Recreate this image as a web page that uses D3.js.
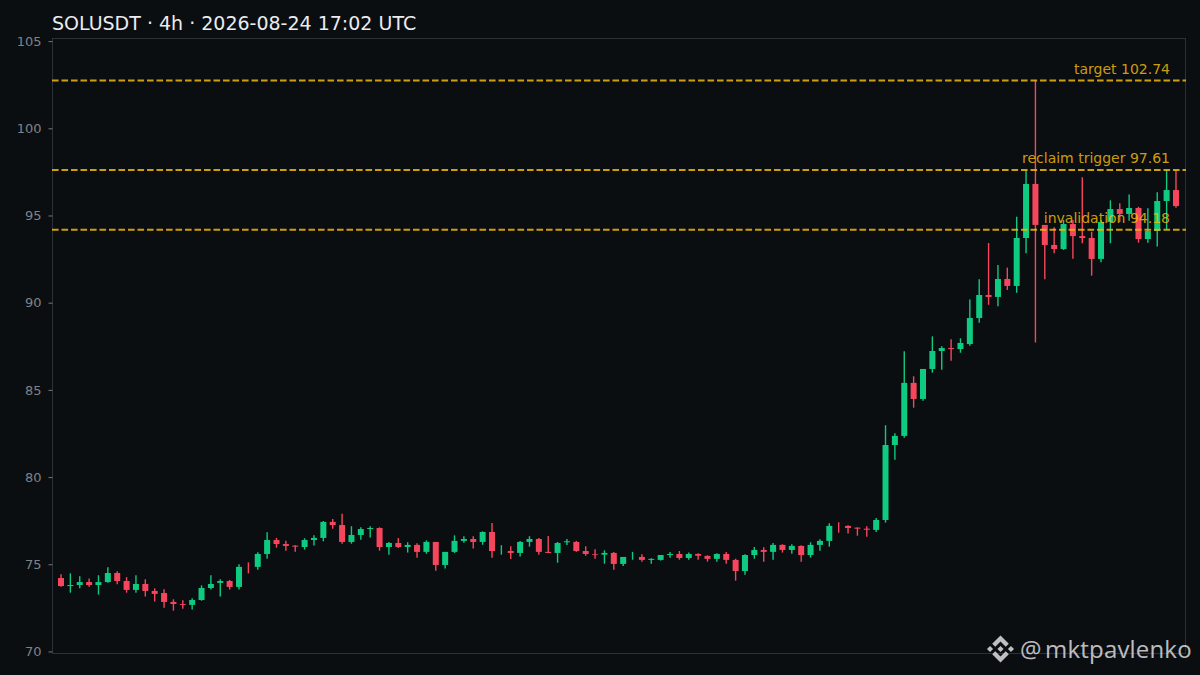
<!DOCTYPE html>
<html><head><meta charset="utf-8">
<script src="https://cdn.jsdelivr.net/npm/d3@7/dist/d3.min.js"></script>
<style>html,body{margin:0;padding:0;background:#0b0e11;overflow:hidden}svg{display:block}text{opacity:.999}</style>
</head><body><svg id="c" width="1200" height="675"></svg>
<script>
const titleText = "SOLUSDT · 4h · 2026-08-24 17:02 UTC";
const handle = "@ mktpavlenko";
const yTicks = [70,75,80,85,90,95,100,105];
const levelNames = ["target 102.74","reclaim trigger 97.61","invalidation 94.18"];
const levelValues = [102.74,97.61,94.18];
const opens = [74.21,73.75,73.81,73.98,73.81,73.98,74.50,74.04,73.53,73.87,73.47,73.35,72.84,72.72,72.67,72.95,73.64,73.93,74.04,73.70,
74.85,74.85,75.59,76.39,76.16,76.07,75.99,76.39,76.51,77.43,77.25,76.28,76.68,77.02,77.08,75.99,76.22,75.99,76.11,75.71,
76.28,74.96,75.71,76.34,76.45,76.28,76.85,75.79,75.76,75.65,76.28,76.45,75.71,75.65,76.26,76.28,75.76,75.59,75.55,75.65,
75.02,75.48,75.42,75.25,75.25,75.53,75.59,75.36,75.59,75.48,75.31,75.59,75.25,74.61,75.53,75.82,75.71,76.11,75.82,76.05,
75.53,76.11,76.34,77.14,77.20,77.10,77.04,76.97,77.54,81.84,82.36,85.40,84.48,86.20,87.23,87.40,87.34,87.63,89.12,90.44,
90.33,91.36,90.96,93.71,96.81,94.46,93.31,93.08,94.51,93.82,93.71,92.51,94.63,95.37,95.09,95.43,93.65,94.11,95.83,96.46];
const highs = [74.43,74.48,74.31,74.19,74.37,74.83,74.60,74.26,74.37,74.14,73.62,73.57,72.99,72.93,73.05,73.79,74.37,74.14,74.10,75.00,
75.11,75.69,76.84,76.51,76.35,76.09,76.49,76.66,77.48,77.60,77.89,77.18,77.12,77.18,77.12,76.28,76.51,76.26,76.20,76.37,
76.28,75.71,76.66,76.61,76.61,76.89,77.37,76.09,76.03,76.34,76.61,76.51,76.62,76.28,76.45,76.34,76.03,75.86,75.80,75.71,
75.42,75.71,75.57,75.34,75.53,75.71,75.76,75.67,75.63,75.51,75.63,75.71,75.32,75.57,75.99,75.97,76.22,76.15,76.15,76.09,
76.26,76.43,77.35,77.41,77.24,77.12,77.18,77.65,82.97,82.51,87.21,85.78,86.20,88.07,87.50,87.90,87.96,90.19,91.34,93.42,
92.16,92.01,94.93,97.61,102.74,94.46,94.32,94.74,94.74,97.19,94.07,94.74,95.87,95.70,96.21,95.50,95.41,96.33,97.61,97.61];
const lows = [73.71,73.37,73.62,73.71,73.26,73.94,73.85,73.37,73.37,73.15,72.86,72.51,72.34,72.45,72.40,72.91,73.55,73.15,73.55,73.55,
74.48,74.69,75.32,75.95,75.78,75.72,75.84,76.07,76.32,77.04,76.18,76.18,76.41,76.53,75.78,75.55,75.93,75.67,75.38,75.60,
74.63,74.75,75.65,76.24,75.90,76.12,75.38,75.55,75.30,75.44,76.01,75.55,75.65,75.09,76.11,75.71,75.49,75.32,75.03,74.69,
74.90,75.26,75.15,75.03,75.21,75.38,75.26,75.26,75.26,75.15,75.15,75.03,74.06,74.40,75.32,75.15,75.26,75.67,75.61,75.15,
75.38,75.78,76.01,76.81,76.76,76.64,76.58,76.85,77.39,81.00,82.26,83.98,84.38,85.99,86.16,86.67,87.13,87.53,88.85,89.88,
89.79,90.73,90.57,92.83,87.71,91.34,92.83,93.02,92.52,93.41,91.55,92.32,93.41,94.63,94.70,93.44,93.44,93.22,94.21,95.45];
const closes = [73.75,73.81,73.98,73.81,73.98,74.50,74.04,73.53,73.87,73.47,73.30,72.84,72.72,72.67,72.95,73.64,73.87,74.04,73.70,74.85,
74.85,75.59,76.39,76.16,76.05,76.01,76.39,76.51,77.43,77.25,76.28,76.68,77.02,77.08,75.99,76.22,75.99,76.11,75.71,76.28,
74.96,75.71,76.34,76.45,76.28,76.85,75.76,75.79,75.65,76.28,76.45,75.71,75.65,76.22,76.32,75.76,75.59,75.55,75.65,75.02,
75.42,75.48,75.25,75.31,75.53,75.59,75.36,75.59,75.49,75.31,75.59,75.25,74.61,75.53,75.82,75.71,76.11,75.82,76.05,75.53,
76.11,76.34,77.20,77.14,77.08,77.04,76.98,77.54,81.84,82.36,85.40,84.48,86.20,87.23,87.40,87.34,87.69,89.12,90.44,90.33,
91.36,90.96,93.71,96.81,94.46,93.31,93.08,94.51,93.82,93.71,92.51,94.63,95.37,95.09,95.43,93.65,94.11,95.83,96.46,95.54];

const upCol="#0ecb81", downCol="#f6465d", gold="#f0b90b", spine="#2b3139", tickCol="#7f8388";
const svg=d3.select("#c");
svg.append("rect").attr("width",1200).attr("height",675).attr("fill","#0b0e11");
const x=d3.scaleLinear().domain([-0.96,120.07]).range([52,1186]);
const y=d3.scaleLinear().domain([69.9,105.15]).range([653.2,38.5]);
const font="'DejaVu Sans',sans-serif";

svg.append("rect").attr("x",52.5).attr("y",38.5).attr("width",1133).attr("height",615)
  .attr("fill","none").attr("stroke",spine).attr("stroke-width",1);

const axis=d3.axisLeft(y).tickValues(yTicks).tickFormat(d3.format("d")).tickSize(4).tickPadding(7);
const ga=svg.append("g").attr("transform","translate(52.5,0)").call(axis);
ga.select(".domain").remove();
ga.selectAll("line").attr("stroke",tickCol).attr("stroke-width",0.9);
ga.selectAll("text").attr("fill",tickCol).style("font-family",font).style("font-size","13px");

const data=opens.map((o,i)=>({i,o,h:highs[i],l:lows[i],c:closes[i]}));
const colOf=d=>{const up=d.c>d.o||(d.c===d.o&&[47,61].includes(d.i));return up?upCol:downCol;};
svg.append("g").selectAll("line").data(data).join("line")
  .attr("x1",d=>x(d.i)).attr("x2",d=>x(d.i)).attr("y1",d=>y(d.h)).attr("y2",d=>y(d.l))
  .attr("stroke",colOf).attr("stroke-width",1.4);
svg.append("g").selectAll("rect").data(data).join("rect")
  .attr("x",d=>x(d.i)-3).attr("width",6)
  .attr("y",d=>y(Math.max(d.o,d.c))).attr("height",d=>Math.abs(y(d.o)-y(d.c)))
  .attr("fill",colOf);

svg.append("g").selectAll("line").data(levelValues).join("line")
  .attr("x1",52).attr("x2",1186).attr("y1",d=>y(d)).attr("y2",d=>y(d))
  .attr("stroke",gold).attr("stroke-opacity",0.85).attr("stroke-width",2).attr("stroke-dasharray","6.6,2.9");
svg.append("g").selectAll("text").data(levelValues).join("text")
  .attr("x",1170).attr("y",d=>y(d)-6.5).attr("text-anchor","end")
  .attr("fill",gold).attr("fill-opacity",0.85)
  .style("font-family",font).style("font-size","14px")
  .text((d,i)=>levelNames[i]);

svg.append("text").attr("x",52).attr("y",30).attr("fill","#eaecef")
  .style("font-family",font).style("font-size","19px").text(titleText);

const logo=svg.append("g").attr("transform","translate(987,635.5) scale(0.2133)").attr("fill","#eaecef").attr("fill-opacity",0.8);
["M38.73 53.2l24.59-24.58 24.6 24.6 14.3-14.31L63.32 0 24.43 38.9z",
 "M0 63.31l14.3-14.31 14.31 14.31-14.31 14.3z",
 "M38.73 73.41l24.59 24.59 24.6-24.6 14.31 14.29-38.9 38.91-38.91-38.88-.02-.02z",
 "M98 63.31l14.3-14.31 14.31 14.3-14.31 14.32z",
 "M77.83 63.3L63.32 48.78 52.59 59.51l-1.24 1.23-2.54 2.54 14.51 14.5 14.51-14.52z"]
 .forEach(p=>logo.append("path").attr("d",p));
svg.append("text").attr("x",1020).attr("y",658).attr("fill","#eaecef").attr("fill-opacity",0.8)
  .style("font-family","'Open Sans',sans-serif").style("font-size","24px").style("word-spacing","-3px").style("letter-spacing","0.18px").text(handle);
</script></body></html>
